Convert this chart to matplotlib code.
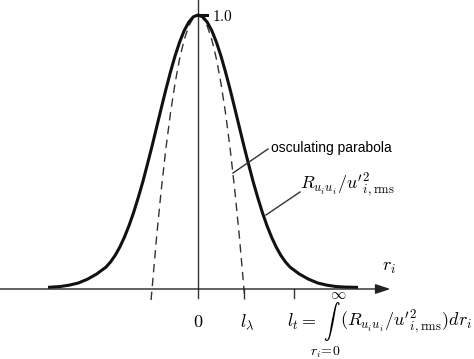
import matplotlib
matplotlib.use("Agg")
import matplotlib.pyplot as plt

plt.rcParams['mathtext.fontset'] = 'cm'

# correlation curve R_{u_i u_i}/u'^2 (x in units of l_lambda)
curve_x = [-3.26, -3.0, -2.8, -2.6, -2.4, -2.2, -2.0, -1.9, -1.8, -1.7, -1.6, -1.5, -1.4, -1.3,
           -1.2, -1.1, -1.0, -0.9, -0.8, -0.7, -0.6, -0.5, -0.4, -0.3, -0.2, -0.1, 0.0,
           0.1, 0.2, 0.3, 0.4, 0.5, 0.6, 0.7, 0.8, 0.9, 1.0, 1.1, 1.2, 1.3, 1.4, 1.5,
           1.6, 1.7, 1.8, 1.9, 2.0, 2.2, 2.4, 2.6, 2.8, 3.0, 3.2, 3.48]
curve_y = [0.006, 0.009, 0.014, 0.022, 0.036, 0.055, 0.080, 0.099, 0.123, 0.153, 0.189, 0.231,
           0.279, 0.333, 0.391, 0.455, 0.521, 0.590, 0.659, 0.727, 0.791, 0.850, 0.901, 0.943,
           0.974, 0.9935, 1.0,
           0.9935, 0.974, 0.943, 0.901, 0.850, 0.791, 0.727, 0.659, 0.590, 0.521, 0.455, 0.391,
           0.333, 0.279, 0.231, 0.189, 0.153, 0.123, 0.099, 0.080, 0.055, 0.036, 0.022, 0.014,
           0.009, 0.007, 0.006]

# osculating parabola
para_x = [-1.02, -0.9, -0.8, -0.7, -0.6, -0.5, -0.4, -0.3, -0.2, -0.1, 0.0,
          0.1, 0.2, 0.3, 0.4, 0.5, 0.6, 0.7, 0.8, 0.9, 1.02]
para_y = [-0.04, 0.19, 0.36, 0.51, 0.64, 0.75, 0.84, 0.91, 0.96, 0.99, 1.0,
          0.99, 0.96, 0.91, 0.84, 0.75, 0.64, 0.51, 0.36, 0.19, -0.04]

tick_pos = [0.0, 1.0, 2.09]
tick_labels = [r'$0$', r'$l_\lambda$', r'$l_t =$']

fig = plt.figure(figsize=(4.74, 3.59), dpi=100)
ax = fig.add_axes([0, 0, 1, 1])
ax.set_xlim(-198 / 46, (474 - 198) / 46)
ax.set_ylim(-(359 - 289) / 274, 289 / 274)
ax.axis('off')

axc = '#333333'
# horizontal axis with arrow
ax.annotate('', xy=(4.18, 0), xytext=(-4.31, 0),
            arrowprops=dict(arrowstyle='-|>,head_length=0.9,head_width=0.3',
                            color='#222222', lw=1.0, shrinkA=0, shrinkB=0))
# vertical axis
ax.plot([0, 0], [-0.033, 1.06], color=axc, lw=1.0)
# ticks
for tp in tick_pos[1:]:
    ax.plot([tp, tp], [0, -0.033], color=axc, lw=1.0)

# curves
ax.plot(para_x, para_y, color='#333333', lw=1.0, dashes=(6, 4))
ax.plot(curve_x, curve_y, color='#111111', lw=2.2, solid_capstyle='butt')
# peak mark
ax.plot([0, 0.2], [1.0, 1.0], color='#111111', lw=2.2)
ax.text(0.3, 0.996, r'$1.0$', fontsize=11, ha='left', va='center')

# tick labels
ax.text(tick_pos[0], -0.12, tick_labels[0], fontsize=13, ha='center', va='center')
ax.text(1.07, -0.12, tick_labels[1], fontsize=13, ha='center', va='center')
ax.text(1.93, -0.12, tick_labels[2], fontsize=13, ha='left', va='center')
ax.text(2.91, -0.12, r'$\int$', fontsize=12, ha='center', va='center')
ax.text(3.04, -0.02, r'$\infty$', fontsize=11, ha='center', va='center')
ax.text(2.76, -0.23, r'$r_i\!=\!0$', fontsize=10, ha='center', va='center')
ax.text(3.09, -0.12, r"$(R_{u_iu_i}/u'^{2}_{i,\mathrm{rms}})dr_i$", fontsize=13,
        ha='left', va='center')

# axis label
ax.text(4.15, 0.08, r'$r_i$', fontsize=13, ha='center', va='center')

# annotations
ax.plot([(233 - 198) / 46, (268 - 198) / 46], [(289 - 173) / 274, (289 - 149) / 274],
        color=axc, lw=1.0)
ax.text((271 - 198) / 46, (289 - 148) / 274, 'osculating parabola', fontsize=10,
        family='Liberation Sans', ha='left', va='center')
ax.plot([(266 - 198) / 46, (300 - 198) / 46], [(289 - 215) / 274, (289 - 192) / 274],
        color=axc, lw=1.0)
ax.text((300 - 198) / 46, (289 - 185) / 274, r"$R_{u_iu_i}/u'^{2}_{i,\mathrm{rms}}$",
        fontsize=13, ha='left', va='center')

fig.savefig('out.png', dpi=100)
